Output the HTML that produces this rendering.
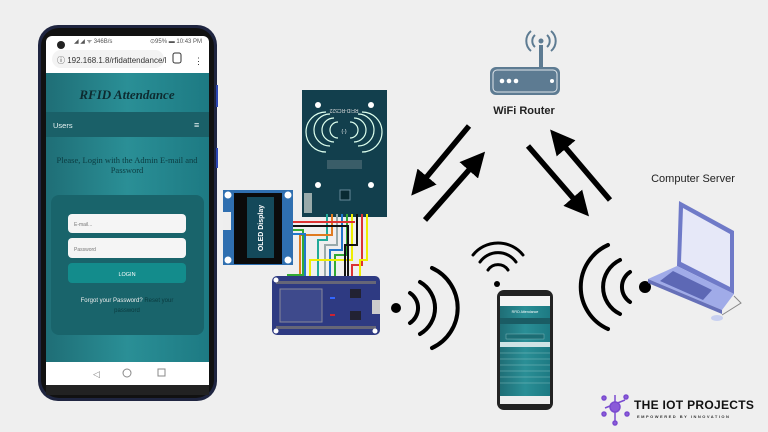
<!DOCTYPE html>
<html><head><meta charset="utf-8"><style>
html,body{margin:0;padding:0;background:#efefef;}
svg{display:block;font-family:"Liberation Sans",sans-serif;}
</style></head><body>
<svg width="768" height="432" viewBox="0 0 768 432" xmlns="http://www.w3.org/2000/svg">
<defs>
<linearGradient id="tl" x1="0" y1="0" x2="1" y2="0">
<stop offset="0" stop-color="#1f6e76"/><stop offset="0.5" stop-color="#2a8f96"/><stop offset="1" stop-color="#1d7a83"/></linearGradient>
<marker id="ah" markerWidth="4.5" markerHeight="4.5" refX="2" refY="2.25" orient="auto"><path d="M0,0 L4.5,2.25 L0,4.5 z" fill="#000"/></marker>
</defs>
<rect width="768" height="432" fill="#efefef"/>
<!-- Big phone -->
<rect x="38" y="25" width="179" height="376" rx="20" fill="#1f2540"/>
<rect x="41" y="28" width="173" height="370" rx="18" fill="#111"/>
<rect x="46" y="36" width="163" height="349" rx="6" fill="#fff"/>
<rect x="46" y="73" width="163" height="289" fill="url(#tl)"/>
<rect x="46" y="112" width="163" height="25" fill="#1a6068"/>
<rect x="46" y="362" width="163" height="23" fill="#fff"/>
<rect x="46" y="385" width="163" height="10" fill="#222"/>
<circle cx="61" cy="45" r="4" fill="#222"/>
<text x="74" y="43" font-size="6" fill="#555">◢ ◢ ᯤ 346B/s</text>
<text x="150" y="43" font-size="6" fill="#555">⊙95% ▬ 10:43 PM</text>
<rect x="52" y="50" width="112" height="18" rx="9" fill="#f3f3f3"/>
<text x="57" y="63" font-size="8" fill="#333">ⓘ 192.168.1.8/rfidattendance/l</text>
<rect x="173" y="53" width="8" height="10" rx="2" fill="none" stroke="#333"/>
<text x="194" y="64" font-size="9" fill="#333">⋮</text>
<text x="127" y="99" font-size="13" font-style="italic" font-weight="bold" text-anchor="middle" font-family="Liberation Serif,serif" fill="#0d2b30">RFID Attendance</text>
<text x="53" y="128" font-size="7.5" fill="#e8f3f3">Users</text>
<text x="194" y="128" font-size="9" fill="#e8f3f3">≡</text>
<text x="127" y="163" font-size="8.5" text-anchor="middle" font-family="Liberation Serif,serif" fill="#0b3b40">Please, Login with the Admin E-mail and</text>
<text x="127" y="173" font-size="8.5" text-anchor="middle" font-family="Liberation Serif,serif" fill="#0b3b40">Password</text>
<rect x="51" y="195" width="153" height="140" rx="8" fill="#19646b"/>
<rect x="68" y="214" width="118" height="19" rx="4" fill="#f5f5f5"/>
<text x="74" y="226" font-size="5" fill="#777">E-mail...</text>
<rect x="68" y="238" width="118" height="20" rx="4" fill="#f5f5f5"/>
<text x="74" y="251" font-size="5" fill="#777">Password</text>
<rect x="68" y="263" width="118" height="20" rx="4" fill="#138c8c"/>
<text x="127" y="276" font-size="5.5" text-anchor="middle" fill="#fff">LOGIN</text>
<text x="127" y="302" font-size="6" text-anchor="middle" fill="#eee">Forgot your Password? <tspan fill="#0a3a3e">Reset your</tspan></text>
<text x="127" y="312" font-size="6" text-anchor="middle" fill="#0a3a3e">password</text>
<text x="93" y="377" font-size="9" fill="#888">◁</text>
<circle cx="127" cy="373" r="4" fill="none" stroke="#888"/>
<rect x="158" y="369" width="7" height="7" fill="none" stroke="#888"/>
<rect x="216" y="85" width="2" height="22" fill="#2b45b0"/>
<rect x="216" y="148" width="2" height="20" fill="#2b45b0"/>
<!-- RFID -->
<rect x="302" y="90" width="85" height="127" fill="#123f4d"/>
<circle cx="318" cy="105" r="3" fill="#fff"/><circle cx="371" cy="105" r="3" fill="#fff"/>
<circle cx="318" cy="185" r="3" fill="#fff"/><circle cx="371" cy="185" r="3" fill="#fff"/>
<text x="344" y="113" font-size="5" fill="#ddd" text-anchor="middle" transform="rotate(180 344 111)">RFID-RC522</text>
<g fill="none" stroke="#dfe" stroke-width="1.2">
<path d="M338,122 a8,8 0 0 0 0,16"/><path d="M334,118 a12,12 0 0 0 0,24"/><path d="M330,114 a16,16 0 0 0 0,32"/><path d="M326,112 a20,20 0 0 0 0,40"/>
<path d="M350,122 a8,8 0 0 1 0,16"/><path d="M354,118 a12,12 0 0 1 0,24"/><path d="M358,114 a16,16 0 0 1 0,32"/><path d="M362,112 a20,20 0 0 1 0,40"/>
</g>
<text x="344" y="133" font-size="5" fill="#fff" text-anchor="middle">(·)</text>
<rect x="327" y="160" width="35" height="9" fill="#3a5d68"/>
<rect x="304" y="193" width="8" height="20" fill="#9aa"/>
<rect x="340" y="190" width="10" height="10" fill="#0a2a33" stroke="#689"/>
<!-- wires -->
<g fill="none" stroke-width="2">
<path d="M327,214 V240 H318 V281" stroke="#2a9"/>
<path d="M332,214 V235 H300 V281" stroke="#e07b20"/>
<path d="M337,214 V245 H325 V281" stroke="#9aa"/>
<path d="M342,214 V250 H330 V281" stroke="#27c"/>
<path d="M347,214 V255 H335 V281" stroke="#3a3"/>
<path d="M352,214 V260 H310 V281" stroke="#ee0"/>
<path d="M357,214 V245 H345 V281" stroke="#111"/>
<path d="M362,214 V265 H352 V281" stroke="#d33"/>
<path d="M367,214 V260 H360 V281" stroke="#ee0"/>
<path d="M290,222 H355" stroke="#d33"/>
<path d="M290,226 H348 V281" stroke="#111"/>
<path d="M290,230 H303 V275 H288 V281" stroke="#3a3"/>
<path d="M290,234 H305 V281" stroke="#27c"/>
</g>
<!-- OLED -->
<rect x="223" y="190" width="70" height="75" fill="#2f6fb0"/>
<rect x="234" y="193" width="48" height="71" fill="#0b0b0b"/>
<rect x="247" y="197" width="27" height="61" fill="#14495a"/>
<circle cx="228" cy="195" r="3.5" fill="#fff"/><circle cx="288" cy="195" r="3.5" fill="#fff"/>
<circle cx="228" cy="260" r="3.5" fill="#fff"/><circle cx="288" cy="260" r="3.5" fill="#fff"/>
<rect x="223" y="212" width="8" height="18" fill="#eee"/>
<text x="263" y="228" font-size="7" font-weight="bold" fill="#fff" text-anchor="middle" transform="rotate(-90 263 228)">OLED Display</text>
<!-- ESP32 -->
<rect x="272" y="276" width="108" height="59" rx="5" fill="#2e3a82"/>
<rect x="276" y="281" width="100" height="3" fill="#667"/>
<rect x="276" y="326" width="100" height="3" fill="#667"/>
<rect x="280" y="289" width="42" height="33" fill="#3e4a8c" stroke="#889"/>
<rect x="372" y="300" width="8" height="14" fill="#ccc"/>
<rect x="350" y="289" width="11" height="9" fill="#223"/><rect x="350" y="311" width="11" height="9" fill="#223"/>
<rect x="330" y="297" width="5" height="2" fill="#36f"/><rect x="330" y="314" width="5" height="2" fill="#c23"/>
<circle cx="276" cy="280" r="2.5" fill="#fff"/><circle cx="276" cy="331" r="2.5" fill="#fff"/><circle cx="375" cy="331" r="2.5" fill="#fff"/>
<!-- waves left -->
<circle cx="396" cy="308" r="5" fill="#000"/>
<g fill="none" stroke="#000" stroke-width="4" stroke-linecap="round">
<path d="M410,293 a18,18 0 0 1 0,30"/><path d="M420,282 a30,30 0 0 1 0,52"/><path d="M432,268 a44,44 0 0 1 0,80"/>
<path d="M488,270 a12,12 0 0 1 20,0" stroke-width="3"/><path d="M480,262 a22,22 0 0 1 36,0" stroke-width="3"/><path d="M473,255 a32,32 0 0 1 50,0" stroke-width="3"/>
</g>
<circle cx="497" cy="284" r="3" fill="#000"/>
<!-- waves right -->
<circle cx="645" cy="287" r="6" fill="#000"/>
<g fill="none" stroke="#000" stroke-width="4" stroke-linecap="round">
<path d="M630,272 a18,18 0 0 0 0,30"/><path d="M620,260 a30,30 0 0 0 0,54"/><path d="M608,245 a46,46 0 0 0 0,84"/>
</g>
<!-- small phone -->
<rect x="497" y="290" width="56" height="120" rx="7" fill="#222"/>
<rect x="500" y="296" width="50" height="108" fill="url(#tl)"/>
<rect x="500" y="296" width="50" height="10" fill="#f3f3f3"/>
<rect x="500" y="396" width="50" height="8" fill="#eee"/>
<text x="525" y="313" font-size="3.5" fill="#fff" text-anchor="middle">RFID Attendance</text>
<rect x="500" y="318" width="50" height="6" fill="#1a5c64"/>
<rect x="506" y="334" width="38" height="5" fill="#1c6d74" stroke="#bdd" stroke-width=".3"/>
<rect x="500" y="342" width="50" height="5" fill="#cfe3e5"/>
<g stroke="#9cc" stroke-width=".4"><line x1="500" y1="353" x2="550" y2="353"/><line x1="500" y1="359" x2="550" y2="359"/><line x1="500" y1="365" x2="550" y2="365"/><line x1="500" y1="371" x2="550" y2="371"/><line x1="500" y1="377" x2="550" y2="377"/><line x1="500" y1="383" x2="550" y2="383"/></g>
<!-- router -->
<rect x="490" y="67" width="70" height="28" rx="6" fill="#5d7b92"/>
<rect x="493" y="70" width="64" height="22" rx="4" fill="none" stroke="#dfe5ea"/>
<circle cx="502" cy="81" r="2.3" fill="#fff"/><circle cx="509" cy="81" r="2.3" fill="#fff"/><circle cx="516" cy="81" r="2.3" fill="#fff"/><circle cx="552" cy="81" r="2" fill="#fff"/>
<rect x="539" y="45" width="4" height="22" fill="#5d7b92"/>
<circle cx="541" cy="41" r="2.5" fill="#5d7b92"/>
<g fill="none" stroke="#5d7b92" stroke-width="2"><path d="M535,35 a8,8 0 0 0 0,12"/><path d="M547,35 a8,8 0 0 1 0,12"/><path d="M531,31 a13,13 0 0 0 0,20"/><path d="M551,31 a13,13 0 0 1 0,20"/></g>
<text x="524" y="114" font-size="11" font-weight="bold" text-anchor="middle" fill="#222">WiFi Router</text>
<!-- arrows -->
<g stroke="#000" stroke-width="5.5" marker-end="url(#ah)">
<line x1="469" y1="126" x2="420" y2="185"/>
<line x1="425" y1="220" x2="476" y2="162"/>
<line x1="528" y1="146" x2="580" y2="206"/>
<line x1="610" y1="200" x2="559" y2="140"/>
</g>
<text x="693" y="182" font-size="11" text-anchor="middle" fill="#222">Computer Server</text>
<!-- laptop -->
<polygon points="679,201 734,231 734,294 677,266" fill="#6f7ac8"/>
<polygon points="683,208 730,234 730,287 681,262" fill="#e6e8f8"/>
<polygon points="677,266 734,294 722,310 648,279" fill="#a0abe8"/>
<polygon points="673,271 712,290 703,300 660,281" fill="#5d68b5"/>
<polygon points="648,279 722,310 722,314 648,283" fill="#6670b8"/>
<path d="M734,296 L741,303 L722,315" fill="none" stroke="#888"/>
<ellipse cx="717" cy="318" rx="6" ry="3" fill="#c8d0f0"/>
<!-- logo -->
<g stroke="#7a4bd0" stroke-width="1.5" fill="#8a5bd8">
<line x1="605" y1="408" x2="625" y2="400"/><line x1="615" y1="395" x2="615" y2="422"/>
<circle cx="615" cy="407" r="5"/><circle cx="604" cy="398" r="2"/><circle cx="626" cy="397" r="2"/><circle cx="604" cy="414" r="2"/><circle cx="627" cy="414" r="2"/><circle cx="615" cy="423" r="2"/>
</g>
<text x="634" y="409" font-size="12" font-weight="bold" fill="#111" letter-spacing="0.3">THE IOT PROJECTS</text>
<text x="637" y="418" font-size="4" font-weight="bold" fill="#333" letter-spacing="1.5">EMPOWERED BY INNOVATION</text>
</svg>
</body></html>
